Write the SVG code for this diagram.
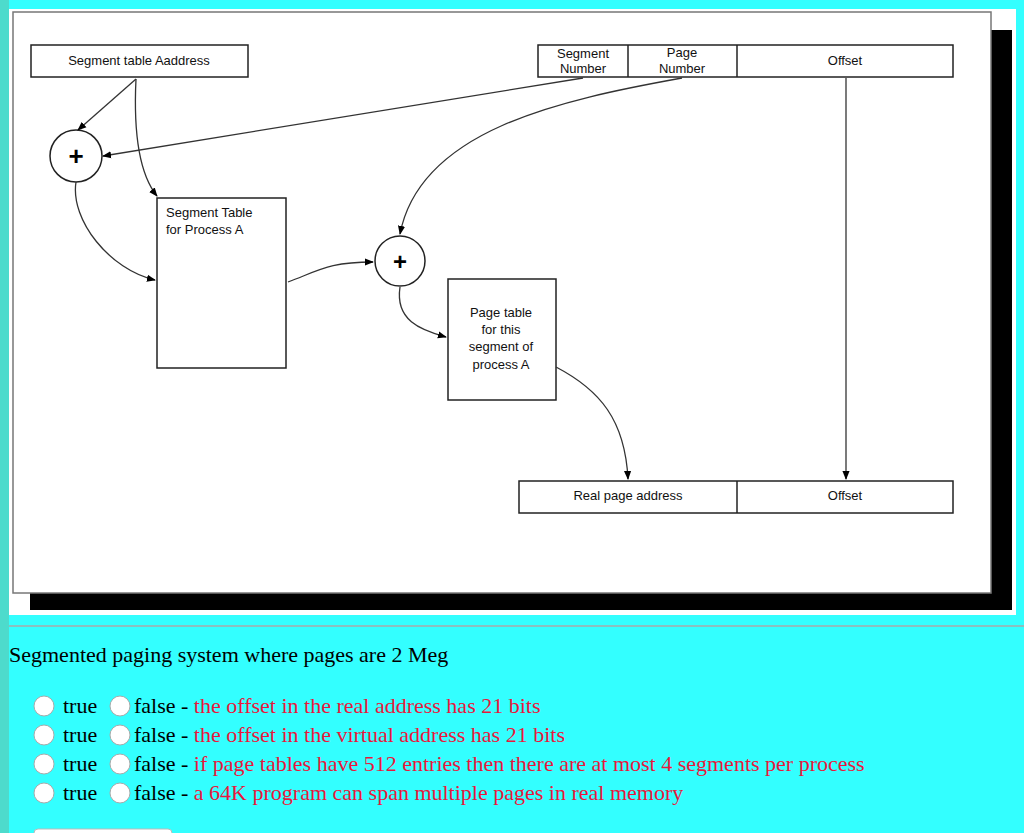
<svg xmlns="http://www.w3.org/2000/svg" width="1024" height="833" viewBox="0 0 1024 833">
<defs>
<marker id="ah" viewBox="0 0 10 10" refX="9" refY="5" markerWidth="9" markerHeight="9" orient="auto" markerUnits="userSpaceOnUse"><path d="M0,1 L10,5 L0,9 z" fill="#000"/></marker>
<style>
.b{fill:#fff;stroke:#222;stroke-width:1.5}
.t{font-family:"Liberation Sans",Arial,sans-serif;font-size:13px;fill:#111}
.c{fill:none;stroke:#333;stroke-width:1.3;marker-end:url(#ah)}
.q{font-family:"Liberation Serif","Times New Roman",serif;font-size:22px}
.r{fill:#fff;stroke:#aaa;stroke-width:1}
</style>
</defs>
<rect width="1024" height="833" fill="#33ffff"/>
<rect width="9" height="833" fill="#4ddbcc"/>
<rect x="9" y="9" width="1007" height="606" fill="#fff"/>
<rect x="30" y="30" width="982" height="580" fill="#000"/>
<rect x="13" y="12" width="978" height="581" fill="#fff" stroke="#777" stroke-width="1.5"/>
<line x1="9" y1="626" x2="1024" y2="626" stroke="#aaa" stroke-width="1.5"/>

<g id="segaddr"><rect class="b" x="31" y="45" width="217" height="32"/><text class="t" x="139" y="65" text-anchor="middle">Segment table Aaddress</text></g>
<g id="vaddr"><rect class="b" x="538" y="45" width="415" height="32"/><line x1="628" y1="45" x2="628" y2="77" stroke="#222" stroke-width="1.5"/><line x1="737" y1="45" x2="737" y2="77" stroke="#222" stroke-width="1.5"/>
<text class="t" x="583" y="58" text-anchor="middle">Segment</text><text class="t" x="583" y="73" text-anchor="middle">Number</text>
<text class="t" x="682" y="57" text-anchor="middle">Page</text><text class="t" x="682" y="73" text-anchor="middle">Number</text>
<text class="t" x="845" y="65" text-anchor="middle">Offset</text></g>
<g id="plus1"><circle cx="76" cy="156" r="26" fill="#fff" stroke="#222" stroke-width="1.5"/><text x="76" y="165" text-anchor="middle" font-family="Liberation Sans,sans-serif" font-weight="bold" font-size="26">+</text></g>
<g id="segtable"><rect class="b" x="157" y="198" width="129" height="170"/><text class="t" x="166" y="217">Segment Table</text><text class="t" x="166" y="234">for Process A</text></g>
<g id="plus2"><circle cx="400" cy="261" r="25" fill="#fff" stroke="#222" stroke-width="1.5"/><text x="400" y="270" text-anchor="middle" font-family="Liberation Sans,sans-serif" font-weight="bold" font-size="24">+</text></g>
<g id="pagetable"><rect class="b" x="448" y="279" width="108" height="121"/><text class="t" x="501" y="317" text-anchor="middle">Page table</text><text class="t" x="501" y="334" text-anchor="middle">for this</text><text class="t" x="501" y="351" text-anchor="middle">segment of</text><text class="t" x="501" y="369" text-anchor="middle">process A</text></g>
<g id="raddr"><rect class="b" x="519" y="481" width="434" height="32"/><line x1="737" y1="481" x2="737" y2="513" stroke="#222" stroke-width="1.5"/><text class="t" x="628" y="500" text-anchor="middle">Real page address</text><text class="t" x="845" y="500" text-anchor="middle">Offset</text></g>

<g id="connectors">
<path class="c" d="M136,79 L78,130"/>
<path class="c" d="M136,79 C134,120 136,170 157,196"/>
<path class="c" d="M583,78 L103,156"/>
<path class="c" d="M682,78 C560,100 420,130 400,234"/>
<path class="c" d="M76,182 C70,220 110,270 155,280"/>
<path class="c" d="M288,282 C320,270 330,262 373,262"/>
<path class="c" d="M400,287 C395,320 420,330 446,337"/>
<path class="c" d="M556,367 C600,390 625,420 628,479"/>
<path class="c" d="M846,78 L846,479"/>
</g>

<text class="q" x="9" y="662" fill="#000">Segmented paging system where pages are 2 Meg</text>
<g>
<circle class="r" cx="44" cy="706" r="10"/><circle class="r" cx="120" cy="706" r="10"/>
<circle class="r" cx="44" cy="735" r="10"/><circle class="r" cx="120" cy="735" r="10"/>
<circle class="r" cx="44" cy="764" r="10"/><circle class="r" cx="120" cy="764" r="10"/>
<circle class="r" cx="44" cy="793" r="10"/><circle class="r" cx="120" cy="793" r="10"/>
<text class="q" x="63" y="713">true</text><text class="q" x="134" y="713">false - <tspan fill="#e8173c">the offset in the real address has 21 bits</tspan></text>
<text class="q" x="63" y="742">true</text><text class="q" x="134" y="742">false - <tspan fill="#e8173c">the offset in the virtual address has 21 bits</tspan></text>
<text class="q" x="63" y="771">true</text><text class="q" x="134" y="771">false - <tspan fill="#e8173c">if page tables have 512 entries then there are at most 4 segments per process</tspan></text>
<text class="q" x="63" y="800">true</text><text class="q" x="134" y="800">false - <tspan fill="#e8173c">a 64K program can span multiple pages in real memory</tspan></text>
</g>
<rect x="34" y="829" width="138" height="10" rx="4" fill="#fff" stroke="#bbb"/>
</svg>
